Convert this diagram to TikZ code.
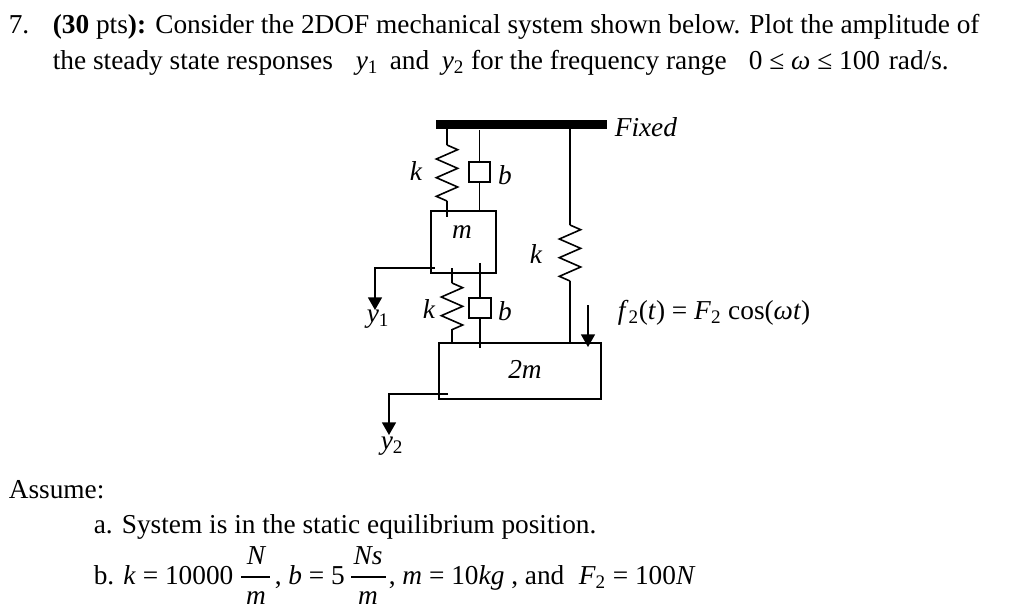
\documentclass[tikz,border=0pt]{standalone}
\usepackage{fontspec}
\setmainfont{Liberation Serif}
\usetikzlibrary{arrows.meta,decorations.pathmorphing}
\tikzset{
  txt/.style={anchor=base west,inner sep=0pt,font=\fontsize{20.5}{24}\selectfont},
  lbl/.style={inner sep=0pt,font=\fontsize{20.5}{24}\selectfont\itshape},
  massbox/.style={draw,line width=1.5pt,inner sep=0pt},
  dashbox/.style={draw,line width=1.5pt,inner sep=0pt,minimum width=16pt,minimum height=15pt},
  spring/.style={decorate,decoration={zigzag,amplitude=8pt,segment length=14pt}},
  pull/.style={-{Triangle[width=10.5pt,length=9.5pt]}}
}
\begin{document}
\begin{tikzpicture}[x=.75pt,y=-.75pt,line width=1.2pt]
\useasboundingbox (0,0) rectangle (1024,615);
% question text
\node[txt] (num) at (8,33) {7.};
\node[txt] (line1) at (52,33) {\textbf{(30} pts\textbf{):} Consider the 2DOF mechanical system shown below. Plot the amplitude of};
\node[txt] (line2a) at (52,69) {the steady state responses};
\node[txt] (line2b) at (355,69) {\textit{y}\textsubscript{1}};
\node[txt] (line2c) at (389,69) {and};
\node[txt] (line2d) at (441,69) {\textit{y}\textsubscript{2} for the frequency range};
\node[txt] (line2e) at (748,69) {0 ≤ \textit{ω} ≤ 100};
\node[txt] (line2f) at (888,69) {rad/s.};
% support
\node[fill,inner sep=0pt,minimum width=128pt,minimum height=7pt] (bar) at (521.5,124.5) {};
\node[lbl,anchor=base west] (fixed) at (614,136) {Fixed};
% masses
\node[massbox,minimum width=49pt,minimum height=46.5pt] (m1) at (463.5,242) {};
\node[lbl] (m1txt) at (462,232) {m};
\node[massbox,minimum width=121.5pt,minimum height=42pt] (m2) at (520,371) {};
\node[lbl] (m2txt) at (525,369) {2m};
% dampers
\node[dashbox] (d1) at (479.5,172) {};
\node[dashbox] (d2) at (480,308) {};
\node[lbl] (b1) at (505,175) {b};
\node[lbl] (b2) at (505,311) {b};
\draw (d1.north)--(d1.north|-bar.south);
\draw (d1.south)--(d1.south|-m1.north);
\coordinate (d2top) at (480,263);
\coordinate (d2bot) at (480,348);
\draw (d2top)--(d2.north);
\draw (d2.south)--(d2bot);
% springs
\coordinate (s1a) at (447,129);
\coordinate (s1b) at (447,145);
\coordinate (s1c) at (447,201);
\coordinate (s1d) at (447,217);
\draw (s1a)--(s1b);
\draw[spring] (s1b)--(s1c);
\draw (s1c)--(s1d);
\coordinate (s2a) at (452,268);
\coordinate (s2b) at (452,283);
\coordinate (s2c) at (452,335);
\coordinate (s2d) at (452,343);
\draw (s2a)--(s2b);
\draw[spring] (s2b)--(s2c);
\draw (s2c)--(s2d);
\coordinate (s3a) at (570,129);
\coordinate (s3b) at (570,225);
\coordinate (s3c) at (570,281);
\coordinate (s3d) at (570,343);
\draw (s3a)--(s3b);
\draw[spring] (s3b)--(s3c);
\draw (s3c)--(s3d);
\node[lbl] (k1) at (416,171) {k};
\node[lbl] (k2) at (429,309) {k};
\node[lbl] (k3) at (536,254) {k};
% displacements
\coordinate (y1a) at (435,268);
\coordinate (y1b) at (375,268);
\coordinate (y1c) at (375,310);
\draw[pull] (y1a)--(y1b)--(y1c);
\node[lbl] (y1) at (378,319) {y\textsubscript{\upshape 1}};
\coordinate (y2a) at (448,394);
\coordinate (y2b) at (389,394);
\coordinate (y2c) at (389,435);
\draw[pull] (y2a)--(y2b)--(y2c);
\node[lbl] (y2) at (392,446) {y\textsubscript{\upshape 2}};
% force
\coordinate (fa) at (588,305);
\coordinate (fb) at (588,347);
\draw[pull] (fa)--(fb);
\node[txt] (force) at (617,319) {\textit{f}\textsubscript{2}(\textit{t}) = \textit{F}\textsubscript{2} cos(\textit{ωt})};
% assumptions
\node[txt] (assume) at (8,498) {Assume:};
\node[txt] (parta) at (93,533) {a. System is in the static equilibrium position.};
\node[txt] (partb) at (93,584) {b. \textit{k} = 10000};
\node[lbl] (n1) at (256,556) {N};
\node[lbl] (m3) at (256,598) {m};
\coordinate (r1a) at (241,577);
\coordinate (r1b) at (270,577);
\draw[line width=.8pt] (r1a)--(r1b);
\node[txt] (partc) at (274,584) {, \textit{b} = 5};
\node[lbl] (n2) at (368,556) {Ns};
\node[lbl] (m4) at (368,598) {m};
\coordinate (r2a) at (351,577);
\coordinate (r2b) at (386,577);
\draw[line width=.8pt] (r2a)--(r2b);
\node[txt] (partd) at (388,584) {, \textit{m} = 10\textit{kg} , and};
\node[txt] (parte) at (578,584) {\textit{F}\textsubscript{2} = 100\textit{N}};
\end{tikzpicture}
\end{document}
